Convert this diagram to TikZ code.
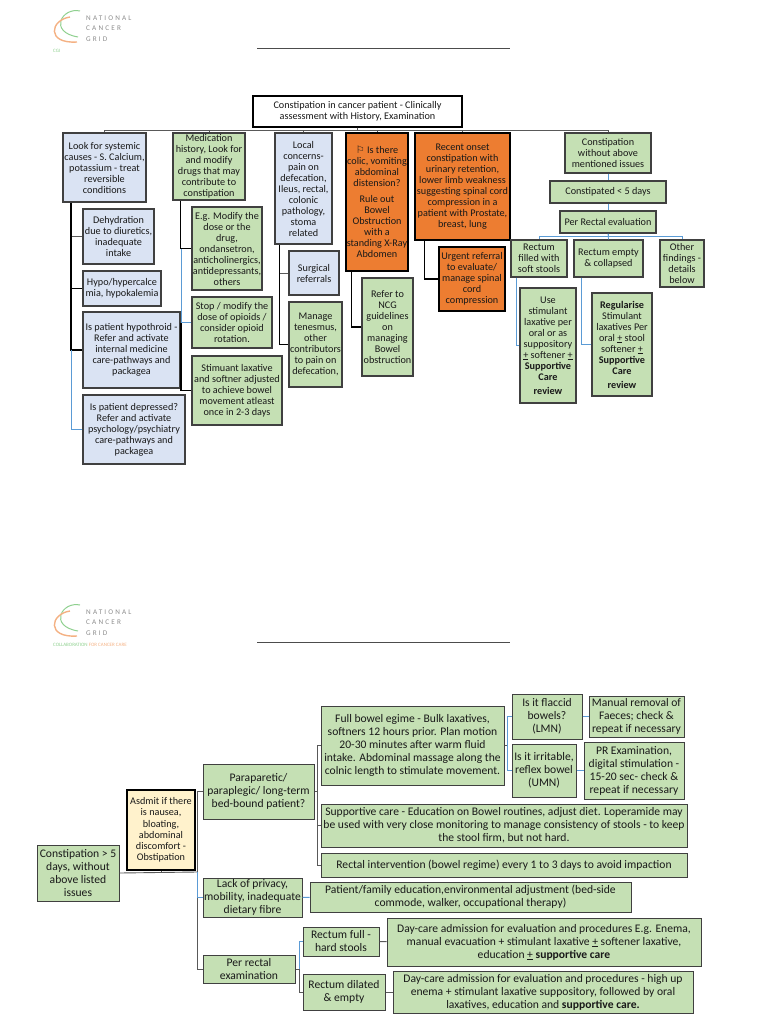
\documentclass[tikz,border=0pt]{standalone}
\usepackage{fontspec}
\setmainfont{Carlito}
\newfontfamily\symfont{DejaVu Sans}
\newfontfamily\logofont[LetterSpace=30]{Carlito}
\usepackage{tikz}
\definecolor{greenfill}{HTML}{C5E0B4}
\definecolor{bluefill}{HTML}{DAE3F3}
\definecolor{orangefill}{HTML}{ED7D31}
\definecolor{creamfill}{HTML}{FFF2CC}
\definecolor{linkblue}{HTML}{5B9BD5}
\definecolor{logogreen}{HTML}{8FD08F}
\definecolor{logoorange}{HTML}{F4B183}
\tikzset{
  toptext/.style={align=center,inner sep=0pt,font=\fontsize{10.2}{11}\selectfont,text=black!90},
  lowtext/.style={align=center,inner sep=0pt,font=\fontsize{11.6}{13}\selectfont,text=black!90},
  rootbox/.style={toptext,draw=black,line width=1.3pt,fill=white},
  bluebox/.style={toptext,draw=black!75,line width=1.2pt,fill=bluefill},
  greenbox/.style={toptext,draw=black!75,line width=1.2pt,fill=greenfill},
  orangebox/.style={toptext,draw=black,line width=1.3pt,fill=orangefill},
  lowbox/.style={lowtext,draw=black!75,line width=1pt,fill=greenfill},
  greyline/.style={draw=black!65,line width=.9pt},
  blackline/.style={draw=black,line width=1.5pt},
  blueline/.style={draw=linkblue,line width=.8pt},
  logotext/.style={inner sep=0pt,anchor=west,text=black!45,font=\fontsize{7.2}{8}\logofont},
}
\begin{document}
\begin{tikzpicture}[x=1pt,y=-1pt]
\useasboundingbox (0,0) rectangle (768,1024);
% logos and rules
\foreach \yy/\ww in {0/{CGI},594/{COLLABORATION {\color{logoorange}FOR CANCER CARE}}}{
\begin{scope}[yshift=-\yy pt]
\draw[logogreen,line width=1pt] (80,11) .. controls (62,7) and (48,32) .. (78,37);
\draw[logoorange,line width=1.4pt] (70,17) .. controls (50,20) and (46,44) .. (77,42);
\node[logotext] (national) at (86,18) {NATIONAL};
\node[logotext] (cancer) at (86,28) {CANCER};
\node[logotext] (grid) at (86,39) {GRID};
\node[inner sep=0pt,anchor=west,text=logogreen,font=\fontsize{5}{5}\selectfont] (tag) at (53,51) {\ww};
\end{scope}
}
\draw[black!70,line width=.8pt] (257,48) -- (510,48);
\draw[black!70,line width=.8pt] (257,642) -- (510,642);
% first chart
\node[rootbox,minimum width=209,minimum height=31] (root) at (357.5,111.5) {Constipation in cancer patient - Clinically\\assessment with History, Examination};
\node[bluebox,minimum width=83,minimum height=69] (sys) at (104.5,167.5) {Look for systemic\\causes - S. Calcium,\\potassium - treat\\reversible\\conditions};
\node[greenbox,minimum width=72,minimum height=67] (med) at (209,166.5) {Medication\\history, Look for\\and modify\\drugs that may\\contribute to\\constipation};
\node[bluebox,minimum width=57,minimum height=111] (local) at (303.5,188.5) {Local\\concerns-\\pain on\\defecation,\\Ileus, rectal,\\colonic\\pathology,\\stoma\\related};
\node[orangebox,minimum width=62,minimum height=138] (colic) at (377,202) {{\symfont\fontsize{10}{11}\selectfont ⚐} Is there\\colic, vomiting\\abdominal\\distension?\\[5pt]Rule out\\Bowel\\Obstruction\\with a\\standing X-Ray\\Abdomen};
\node[orangebox,minimum width=95,minimum height=107] (recent) at (462.5,186.5) {Recent onset\\constipation with\\urinary retention,\\lower limb weakness\\suggesting spinal cord\\compression in a\\patient with Prostate,\\breast, lung};
\node[greenbox,minimum width=86,minimum height=40] (without) at (608,153) {Constipation\\without above\\mentioned issues};
\node[greenbox,minimum width=116,minimum height=22] (lessfive) at (608,192) {Constipated < 5 days};
\node[greenbox,minimum width=96,minimum height=22] (perrectal) at (608,222) {Per Rectal evaluation};
\node[greenbox,minimum width=56,minimum height=37] (filled) at (539,258.5) {Rectum\\filled with\\soft stools};
\node[greenbox,minimum width=69,minimum height=37] (empty) at (608.5,258.5) {Rectum empty\\\& collapsed};
\node[greenbox,minimum width=44,minimum height=47] (other) at (682,263.5) {Other\\findings -\\details\\below};
\node[greenbox,minimum width=56,minimum height=115] (stimulant) at (548,345.5) {Use\\stimulant\\laxative per\\oral or as\\suppository\\\underline{+} softener \underline{+}\\\textbf{Supportive}\\\textbf{Care}\\[3pt]\textbf{review}};
\node[greenbox,minimum width=60,minimum height=103] (regular) at (622,344.5) {\textbf{Regularise}\\Stimulant\\laxatives Per\\oral \underline{+} stool\\softener \underline{+}\\\textbf{Supportive}\\\textbf{Care}\\[3pt]\textbf{review}};
\node[orangebox,minimum width=66,minimum height=64] (urgent) at (472,279) {Urgent referral\\to evaluate/\\manage spinal\\cord\\compression};
\node[greenbox,minimum width=51,minimum height=98] (refer) at (387.5,327) {Refer to\\NCG\\guidelines\\on\\managing\\Bowel\\obstruction};
\node[bluebox,minimum width=71,minimum height=55] (dehyd) at (118.5,236.5) {Dehydration\\due to diuretics,\\inadequate\\intake};
\node[bluebox,minimum width=78,minimum height=35] (hypo) at (122,288.5) {Hypo/hypercalce\\mia, hypokalemia};
\node[bluebox,minimum width=97,minimum height=76] (hypoth) at (131.5,350) {Is patient hypothroid -\\Refer and activate\\internal medicine\\care-pathways and\\packagea};
\node[bluebox,minimum width=102,minimum height=69] (depress) at (134,429.5) {Is patient depressed?\\Refer and activate\\psychology/psychiatry\\care-pathways and\\packagea};
\node[greenbox,minimum width=70,minimum height=83] (modify) at (227,248.5) {E.g. Modify the\\dose or the\\drug,\\ondansetron,\\anticholinergics,\\antidepressants,\\others};
\node[greenbox,minimum width=80,minimum height=51] (stop) at (232,322.5) {Stop / modify the\\dose of opioids /\\consider opioid\\rotation.};
\node[greenbox,minimum width=90,minimum height=69] (laxative) at (237,390.5) {Stimuant laxative\\and softner adjusted\\to achieve bowel\\movement atleast\\once in 2-3 days};
\node[bluebox,minimum width=50,minimum height=44] (surgical) at (314,273) {Surgical\\referrals};
\node[greenbox,minimum width=53,minimum height=85] (tenesmus) at (315.5,344.5) {Manage\\tenesmus,\\other\\contributors\\to pain on\\defecation,};
% first chart links
\draw[greyline] (root.south) -- ++(0,3) -| (sys.north);
\draw[greyline] (root.south) -- ++(0,3) -| (med.north);
\draw[greyline] (root.south) -- ++(0,3) -| (local.north);
\draw[greyline] (root.south) -- ++(0,3) -| (colic.north);
\draw[greyline] (root.south) -- ++(0,3) -| (recent.north);
\draw[greyline] (root.south) -- ++(0,3) -| (without.north);
\coordinate (sysknee) at (71.5,350);
\coordinate (medknee) at (181,249);
\coordinate (medlow) at (181,323);
\draw[greyline] (sysknee) |- (dehyd.west);
\draw[blackline] (sys.south west) ++(8.5,0) |- (hypo.west);
\draw[blackline] (sys.south west) ++(8.5,0) |- (hypoth.west);
\draw[blueline] (sysknee) |- (depress.west);
\draw[blackline] (med.south west) ++(8,0) |- (modify.west);
\draw[blueline] (medknee) |- (stop.west);
\draw[blackline] (medlow) |- (laxative.west);
\draw[greyline] (local.south west) ++(5,0) |- (surgical.west);
\draw[blackline] (local.south west) ++(5,0) |- (tenesmus.west);
\draw[blackline] (colic.south west) ++(6,0) |- (refer.west);
\draw[blackline] (recent.south west) ++(10,0) |- (urgent.west);
\draw[blueline] (without) -- (lessfive);
\draw[blueline] (lessfive) -- (perrectal);
\draw[blueline] (perrectal.south) -- ++(0,3) -| (filled.north);
\draw[blueline] (perrectal.south) -- (empty.north);
\draw[blueline] (perrectal.south) -- ++(0,3) -| (other.north);
\draw[blueline] (filled.south west) ++(6,0) |- (stimulant.west);
\draw[blueline] (empty.south west) ++(8,0) |- (regular.west);
% second chart
\node[lowbox,minimum width=82,minimum height=56] (over) at (78,873) {Constipation > 5\\days, without\\above listed\\issues};
\node[lowbox,draw=black,line width=1.4pt,fill=creamfill,font=\fontsize{10.2}{11.2}\selectfont,minimum width=68,minimum height=80] (admit) at (161,830) {Asdmit if there\\is nausea,\\bloating,\\abdominal\\discomfort -\\Obstipation};
\node[lowbox,minimum width=111,minimum height=55] (para) at (258.5,791.5) {Paraparetic/\\paraplegic/ long-term\\bed-bound patient?};
\node[lowbox,minimum width=99,minimum height=39] (lack) at (252.5,897.5) {Lack of privacy,\\mobility, inadequate\\dietary fibre};
\node[lowbox,minimum width=92,minimum height=28] (exam) at (249,969) {Per rectal\\examination};
\node[lowbox,minimum width=183,minimum height=79] (full) at (412.5,745.5) {Full bowel egime - Bulk laxatives,\\softners 12 hours prior.  Plan motion\\20-30 minutes after warm fluid\\intake. Abdominal massage along the\\colnic length to stimulate movement.};
\node[lowbox,minimum width=70,minimum height=45] (flaccid) at (547,716.5) {Is it flaccid\\bowels?\\(LMN)};
\node[lowbox,minimum width=95,minimum height=41] (manual) at (636.5,716.5) {Manual removal of\\Faeces; check \&\\repeat if necessary};
\node[lowbox,minimum width=64,minimum height=53] (irritable) at (544,770.5) {Is it irritable,\\reflex bowel\\(UMN)};
\node[lowbox,minimum width=100,minimum height=57] (prexam) at (634,770.5) {PR Examination,\\digital stimulation -\\15-20 sec- check \&\\repeat if necessary};
\node[lowbox,minimum width=366,minimum height=43] (supportive) at (504,825.5) {Supportive care - Education on Bowel routines, adjust diet. Loperamide may\\be used with very close monitoring to manage consistency of stools - to keep\\the stool firm, but not hard.};
\node[lowbox,minimum width=366,minimum height=24] (rectal) at (504,865) {Rectal intervention (bowel regime) every 1 to 3 days to avoid impaction};
\node[lowbox,minimum width=321,minimum height=30] (family) at (470.5,897) {Patient/family education,environmental adjustment (bed-side\\commode, walker, occupational therapy)};
\node[lowbox,minimum width=76,minimum height=29] (rectfull) at (341,941.5) {Rectum full -\\hard stools};
\node[lowbox,minimum width=314,minimum height=48] (daycare) at (544,942) {Day-care admission for evaluation and procedures E.g. Enema,\\manual evacuation + stimulant laxative \underline{+} softener laxative,\\education \underline{+}  \textbf{supportive care}};
\node[lowbox,minimum width=82,minimum height=36] (dilated) at (344,992) {Rectum dilated\\\& empty};
\node[lowbox,minimum width=300,minimum height=42] (highup) at (543,992) {Day-care admission for evaluation and procedures - high up\\enema + stimulant laxative suppository, followed by oral\\laxatives, education and \textbf{supportive care.}};
% second chart links
\coordinate (lowknee) at (197,872);
\coordinate (lowmid) at (197,897.5);
\coordinate (fullknee) at (317,791.5);
\coordinate (fullsplit) at (507,745.5);
\coordinate (examsplit) at (299,969);
\draw[greyline] (over.east) -- (lowknee);
\draw[greyline] (admit.south) -- (admit.south |- lowknee);
\draw[greyline] (lowknee) |- (para.west);
\draw[blueline,line width=1pt] (lowknee) |- (lack.west);
\draw[greyline] (lowmid) |- (exam.west);
\draw[greyline] (para.east) -- (fullknee);
\draw[greyline] (fullknee) |- (full.west);
\draw[greyline] (fullknee) |- (supportive.west);
\draw[greyline] (fullknee) |- (rectal.west);
\draw[greyline] (full.east) -- (fullsplit);
\draw[blueline] (fullsplit) |- (flaccid.west);
\draw[blueline] (fullsplit) |- (irritable.west);
\draw[blueline,line width=1pt] (flaccid) -- (manual);
\draw[blueline,line width=1pt] (irritable) -- (prexam);
\draw[blueline,line width=1pt] (lack) -- (family);
\draw[greyline] (exam.east) -- (examsplit);
\draw[blueline] (examsplit) |- (rectfull.west);
\draw[greyline] (examsplit) |- (dilated.west);
\draw[greyline] (rectfull) -- (daycare);
\draw[greyline] (dilated) -- (highup);
\end{tikzpicture}
\end{document}
